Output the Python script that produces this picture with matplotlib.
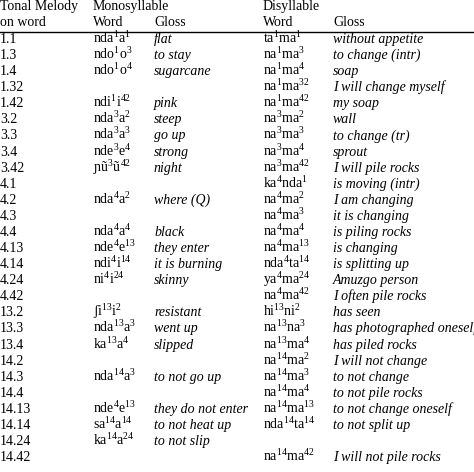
import re
import matplotlib
matplotlib.use('Agg')
import matplotlib.pyplot as plt

plt.rcParams['font.family'] = ['Liberation Serif', 'DejaVu Serif']
plt.rcParams['mathtext.fontset'] = 'custom'
plt.rcParams['mathtext.rm'] = 'Liberation Serif'
plt.rcParams['mathtext.it'] = 'Liberation Serif:italic'
plt.rcParams['mathtext.fallback'] = 'stix'

melody = ['1.1', '1.3', '1.4', '1.32', '1.42', '3.2', '3.3', '3.4', '3.42', '4.1',
          '4.2', '4.3', '4.4', '4.13', '4.14', '4.24', '4.42', '13.2', '13.3', '13.4',
          '14.2', '14.3', '14.4', '14.13', '14.14', '14.24', '14.42']
mono_word = ['nda{1}a{1}', 'ndo{1}o{3}', 'ndo{1}o{4}', '', 'ndi{1}i{42}', 'nda{3}a{2}',
             'nda{3}a{3}', 'nde{3}e{4}', 'ɲũ{3}ũ{42}', '', 'nda{4}a{2}', '', 'nda{4}a{4}',
             'nde{4}e{13}', 'ndi{4}i{14}', 'ni{4}i{24}', '', 'ʃi{13}i{2}', 'nda{13}a{3}',
             'ka{13}a{4}', '', 'nda{14}a{3}', '', 'nde{4}e{13}', 'sa{14}a{14}', 'ka{14}a{24}', '']
mono_gloss = ['flat', 'to stay', 'sugarcane', '', 'pink', 'steep', 'go up', 'strong', 'night', '',
              'where (Q)', '', 'black', 'they enter', 'it is burning', 'skinny', '', 'resistant',
              'went up', 'slipped', '', 'to not go up', '', 'they do not enter', 'to not heat up',
              'to not slip', '']
di_word = ['ta{1}ma{1}', 'na{1}ma{3}', 'na{1}ma{4}', 'na{1}ma{32}', 'na{1}ma{42}', 'na{3}ma{2}',
           'na{3}ma{3}', 'na{3}ma{4}', 'na{3}ma{42}', 'ka{4}nda{1}', 'na{4}ma{2}', 'na{4}ma{3}',
           'na{4}ma{4}', 'na{4}ma{13}', 'nda{4}ta{14}', 'ya{4}ma{24}', 'na{4}ma{42}', 'hi{13}ni{2}',
           'na{13}na{3}', 'na{13}ma{4}', 'na{14}ma{2}', 'na{14}ma{3}', 'na{14}ma{4}', 'na{14}ma{13}',
           'nda{14}ta{14}', '', 'na{14}ma{42}']
di_gloss = ['without appetite', 'to change (intr)', 'soap', 'I will change myself', 'my soap', 'wall',
            'to change (tr)', 'sprout', 'I will pile rocks', 'is moving (intr)', 'I am changing',
            'it is changing', 'is piling rocks', 'is changing', 'is splitting up', 'Amuzgo person',
            'I often pile rocks', 'has seen', 'has photographed oneself', 'has piled rocks',
            'I will not change', 'to not change', 'to not pile rocks', 'to not change oneself',
            'to not split up', '', 'I will not pile rocks']


def to_math(w):
    if not w:
        return ''
    parts = re.findall(r'([^{}]+)\{(\d+)\}', w)
    return '$' + ''.join(r'\mathrm{%s}^{%s}' % (s, t) for s, t in parts) + '$'


W, H = 474, 472
fig = plt.figure(figsize=(W / 100, H / 100), dpi=100)
fig.patch.set_facecolor('white')
ax = fig.add_axes([0, 0, 1, 1])
ax.set_xlim(0, W)
ax.set_ylim(H, 0)
ax.axis('off')

fs = 10
cols = [0, 93, 154, 263, 333]
ax.text(cols[0], 10, 'Tonal Melody', fontsize=fs, va='baseline')
ax.text(cols[1], 10, 'Monosyllable', fontsize=fs, va='baseline')
ax.text(cols[3], 10, 'Disyllable', fontsize=fs, va='baseline')
for x, s in zip(cols, ['on word', 'Word', 'Gloss', 'Word', 'Gloss']):
    ax.text(x, 26, s, fontsize=fs, va='baseline')
ax.plot([0, W], [31.5, 31.5], color='black', lw=1)

y0, dy = 43, 16.08
for i in range(len(melody)):
    y = y0 + i * dy
    ax.text(cols[0], y, melody[i], fontsize=fs, va='baseline')
    ax.text(cols[1], y, to_math(mono_word[i]), fontsize=fs, va='baseline')
    ax.text(cols[2], y, mono_gloss[i], fontsize=fs, va='baseline', style='italic')
    ax.text(cols[3], y, to_math(di_word[i]), fontsize=fs, va='baseline')
    ax.text(cols[4], y, di_gloss[i], fontsize=fs, va='baseline', style='italic')

fig.savefig('out.png', dpi=100)
